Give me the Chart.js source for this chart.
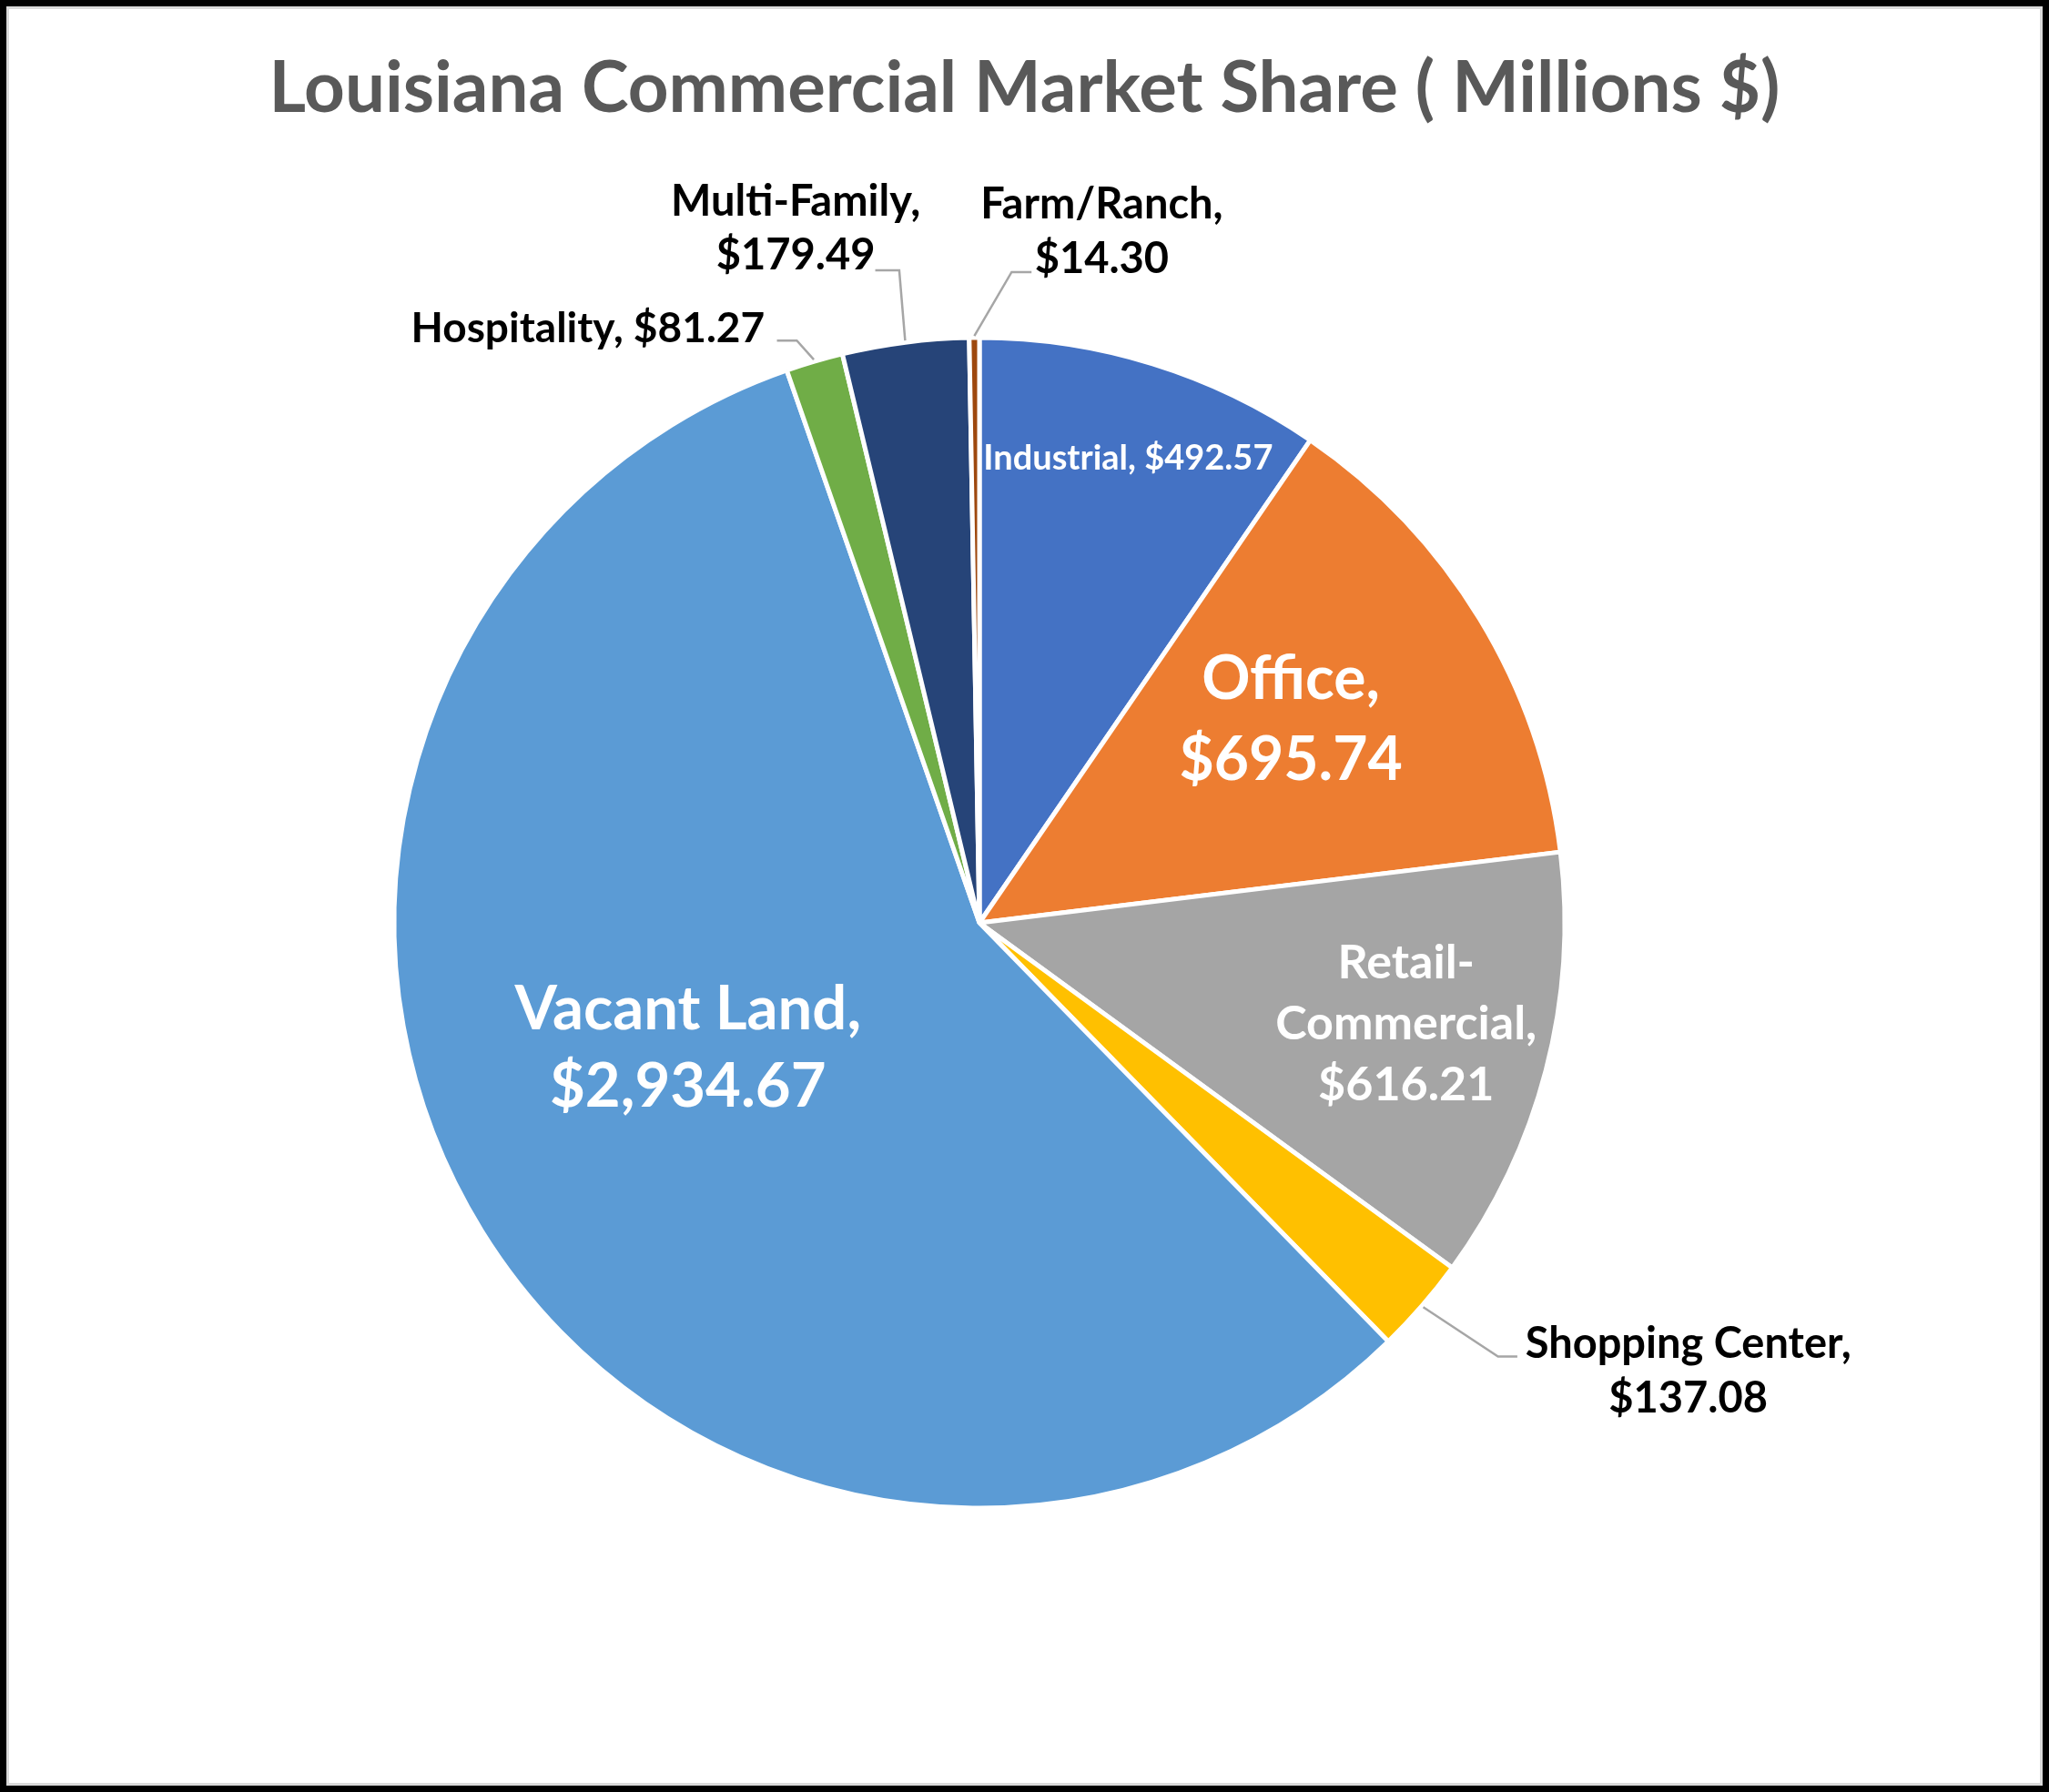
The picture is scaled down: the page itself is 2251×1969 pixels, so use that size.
<!DOCTYPE html>
<html>
<head>
<meta charset="utf-8">
<title>Louisiana Commercial Market Share</title>
<script src="https://cdn.jsdelivr.net/npm/chart.js@4/dist/chart.umd.min.js"></script>
<style>
  html, body { margin: 0; padding: 0; background: #fff; }
  .frame { position: absolute; left: 0; top: 0; width: 2251px; height: 1969px; box-sizing: border-box; border: 7px solid #000; }
  .frame .inner { position: absolute; inset: 0; border: 3px solid #d9d9d9; }
  .title { position: absolute; left: 0; top: 54px; width: 2251px; text-align: center; font: 700 78px Lato, sans-serif; line-height: 1; color: #595959; }
  #chartPie { position: absolute; left: 0; top: 0; }
</style>
</head>
<body>
<div class="frame"><div class="inner"></div></div>
<div class="title">Louisiana Commercial Market Share ( Millions $)</div>
<canvas id="chartPie" width="2251" height="1969"></canvas>
<script>
// data (millions $)
const categories  = ['Industrial', 'Office', 'Retail-Commercial', 'Shopping Center', 'Vacant Land', 'Hospitality', 'Multi-Family', 'Farm/Ranch'];
const values      = [492.57, 695.74, 616.21, 137.08, 2934.67, 81.27, 179.49, 14.30];
const sliceColors = ['#4472c4', '#ed7d31', '#a5a5a5', '#ffc000', '#5b9bd5', '#70ad47', '#264478', '#9e480e'];

// label placement, in units of the pie radius from its centre
// split: 0 one line, 1 name / value, 2 break name at hyphen too
const labelLayout = [
  { dx: 0.254, dy: -0.794, size: 38, lh: 1.3,  color: '#fff', split: 0 },
  { dx: 0.532, dy: -0.346, size: 66, lh: 1.35, color: '#fff', split: 1 },
  { dx: 0.729, dy: 0.173,  size: 52, lh: 1.29, color: '#fff', split: 2 },
  { dx: 1.211, dy: 0.766,  size: 47, lh: 1.27, color: '#000', split: 1, leader: [0.886, 0.741, 0.919] },
  { dx: -0.498, dy: 0.215, size: 67, lh: 1.27, color: '#fff', split: 1 },
  { dx: -0.669, dy: -1.016, size: 46, lh: 1.27, color: '#000', split: 0, leader: [-0.312, -0.995, -0.346] },
  { dx: -0.314, dy: -1.186, size: 47, lh: 1.27, color: '#000', split: 1, leader: [-0.137, -1.115, -0.178] },
  { dx: 0.209, dy: -1.181, size: 47, lh: 1.27, color: '#000', split: 1, leader: [0.055, -1.112, 0.089] }
];

const fmtMoney = v => '$' + v.toLocaleString('en-US', { minimumFractionDigits: 2, maximumFractionDigits: 2 });

function labelLines(i) {
  const name = categories[i], val = fmtMoney(values[i]), L = labelLayout[i];
  if (L.split === 0) return [`${name}, ${val}`];
  if (L.split === 2 && name.includes('-')) {
    const k = name.indexOf('-') + 1;
    return [name.slice(0, k), name.slice(k) + ',', val];
  }
  return [name + ',', val];
}

const sliceLabels = {
  id: 'sliceLabels',
  afterDatasetsDraw(chart) {
    const ctx = chart.ctx;
    chart.getDatasetMeta(0).data.forEach((arc, i) => {
      const L = labelLayout[i];
      const { x, y, outerRadius, startAngle, endAngle } = arc.getProps(['x', 'y', 'outerRadius', 'startAngle', 'endAngle'], true);
      const r = outerRadius;
      ctx.save();
      if (L.leader) {
        const mid = (startAngle + endAngle) / 2;
        ctx.strokeStyle = '#a6a6a6';
        ctx.lineWidth = 2.5;
        ctx.beginPath();
        ctx.moveTo(x + Math.cos(mid) * (r + 2), y + Math.sin(mid) * (r + 2));
        ctx.lineTo(x + L.leader[0] * r, y + L.leader[1] * r);
        ctx.lineTo(x + L.leader[2] * r, y + L.leader[1] * r);
        ctx.stroke();
      }
      const lines = labelLines(i);
      const lh = L.size * L.lh;
      const lx = x + L.dx * r, ly = y + L.dy * r;
      ctx.font = `bold ${L.size}px Lato, sans-serif`;
      ctx.fillStyle = L.color;
      ctx.textAlign = 'center';
      ctx.textBaseline = 'middle';
      lines.forEach((t, k) => ctx.fillText(t, lx, ly + (k - (lines.length - 1) / 2) * lh));
      ctx.restore();
    });
  }
};

new Chart(document.getElementById('chartPie'), {
  type: 'pie',
  data: {
    labels: categories,
    datasets: [{ data: values, backgroundColor: sliceColors, borderColor: '#fff', borderWidth: 5, radius: 643 }]
  },
  options: {
    responsive: false,
    animation: false,
    layout: { padding: { left: 0, right: 99, top: 59, bottom: 0 } },
    plugins: { legend: { display: false }, tooltip: { enabled: false } }
  },
  plugins: [sliceLabels]
});
</script>
</body>
</html>
